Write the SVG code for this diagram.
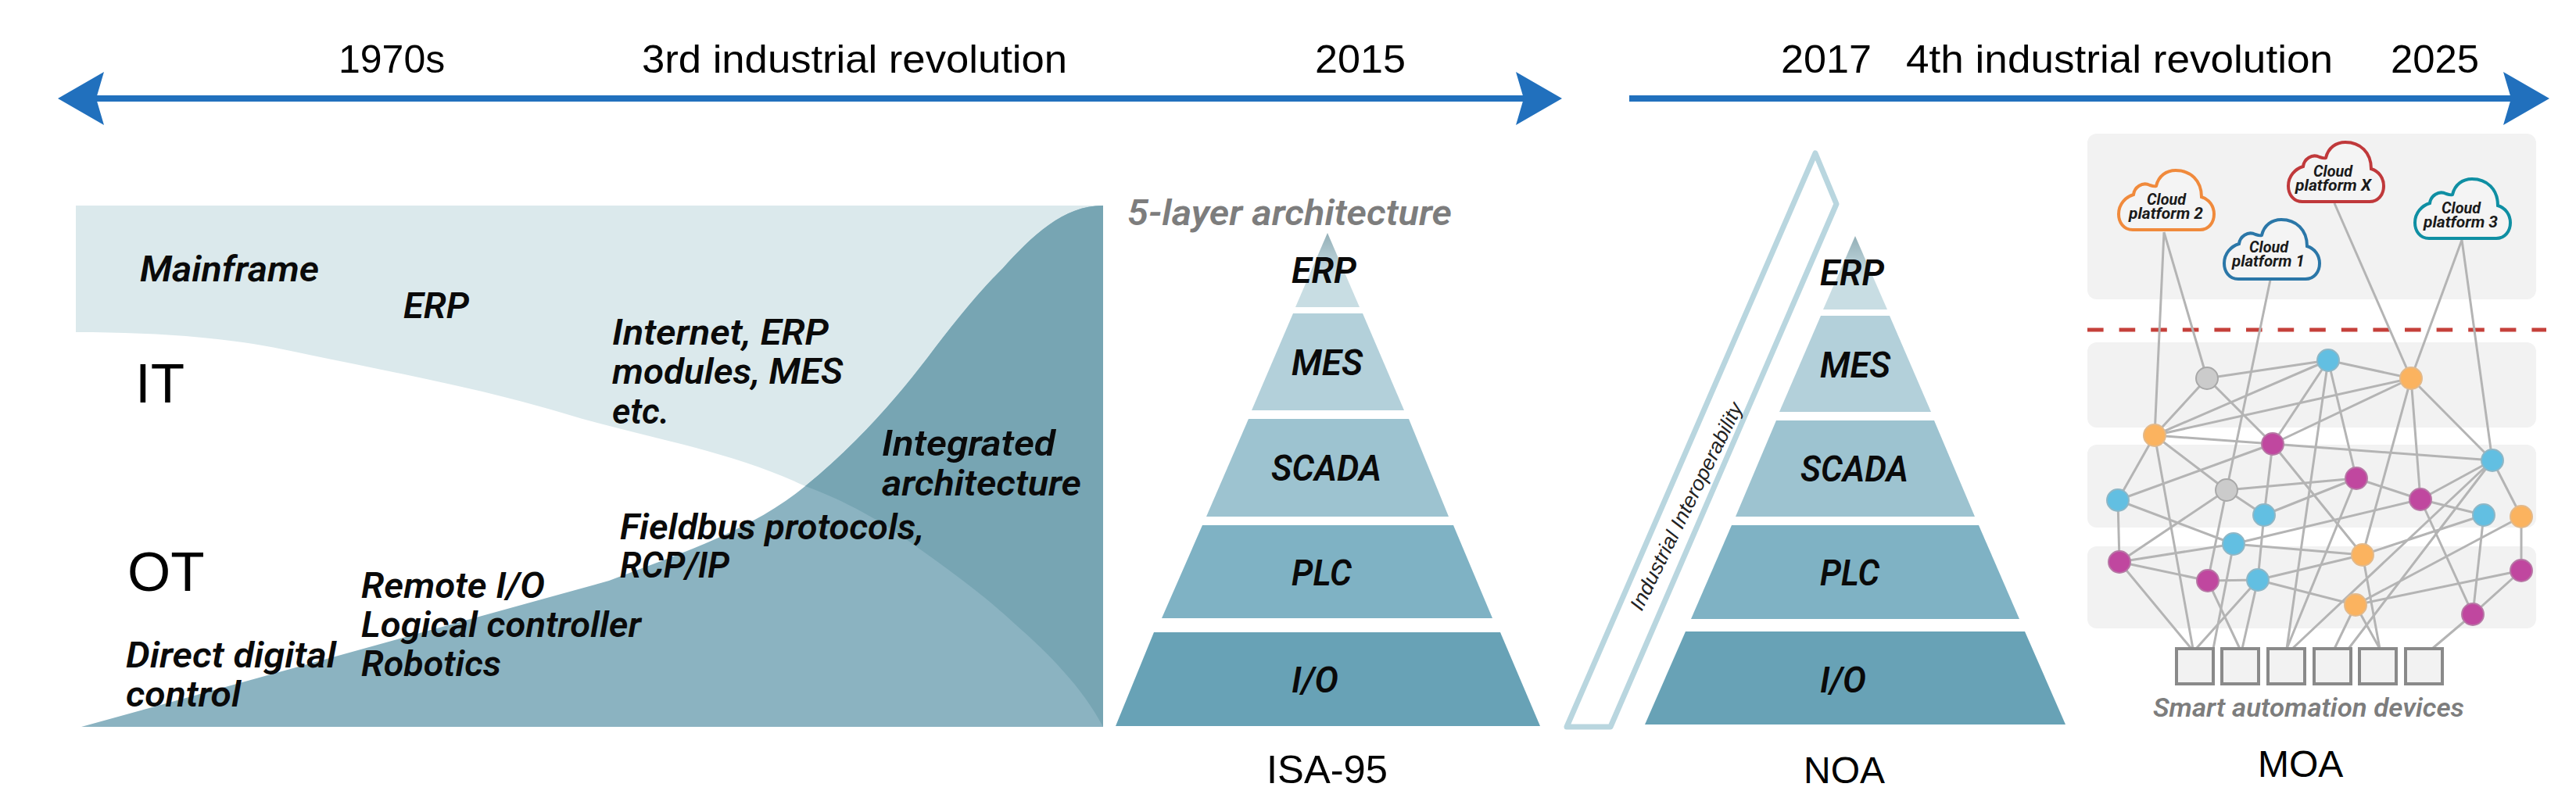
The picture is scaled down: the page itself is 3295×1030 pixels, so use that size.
<svg xmlns="http://www.w3.org/2000/svg" width="3295" height="1030" viewBox="0 0 3295 1030">
<style>
.t{font-family:"Liberation Sans",Arial,sans-serif;fill:#000}
.i{font-family:Roboto,"Liberation Sans",sans-serif;font-style:italic;font-weight:600;font-size:47px;fill:#0a0a0a}
.g{fill:#7d7d7d}
.c{font-size:21px;font-weight:700;fill:#1a1a1a}
.s{font-size:34px;font-weight:600}
.e{stroke:#b4b4b4;stroke-width:3;fill:none}
.tl{stroke:#2170bd;stroke-width:8;fill:none}
.pn{fill:#f2f2f2}
.d{fill:#f2f2f2;stroke:#8a8a8a;stroke-width:4}
.o{fill:#fbb35f;stroke:#e3b98a;stroke-width:2}
.b{fill:#62bfe2;stroke:#8fb7c6;stroke-width:2}
.m{fill:#c0479f;stroke:#b777a5;stroke-width:2}
.y{fill:#cbcbcb;stroke:#a8a8a8;stroke-width:2}
.cl{fill:#f4f4f4;stroke-width:4}
.l1{fill:url(#erp)}.l2{fill:#b3d0da}.l3{fill:#9dc3d0}.l4{fill:#7fb2c4}.l5{fill:#68a2b6}
</style>
<defs>
<linearGradient id="erp" x1="0" y1="0" x2="0" y2="1"><stop offset="0" stop-color="#93afb7"/><stop offset="0.55" stop-color="#c8dde3"/></linearGradient>
<marker id="ah" markerUnits="userSpaceOnUse" viewBox="0 0 59 68" markerWidth="59" markerHeight="68" refX="10" refY="34" orient="auto-start-reverse"><path d="M0,0L59,34L0,68L10,34Z" fill="#2170bd"/></marker>
<path id="cloud" d="M20,77C8,77 2,67 2,57C2,44 11,35 21,32C22,23 32,15 42,20C45,21 48,22 50,21C53,8 63,1 75,1C94,1 108,14 108,35C118,38 124,47 124,57C124,68 117,77 106,77Z"/>
</defs>

<g id="timeline">
<line class="tl" x1="123" y1="126" x2="1949" y2="126" marker-start="url(#ah)" marker-end="url(#ah)"/>
<line class="tl" x1="2084" y1="126" x2="3212" y2="126" marker-end="url(#ah)"/>
<text class="t" font-size="50" x="433" y="93">1970s</text>
<text class="t" font-size="50" x="821" y="93" textLength="544" lengthAdjust="spacingAndGlyphs">3rd industrial revolution</text>
<text class="t" font-size="50" x="1682" y="93" textLength="116" lengthAdjust="spacingAndGlyphs">2015</text>
<text class="t" font-size="50" x="2278" y="93" textLength="116" lengthAdjust="spacingAndGlyphs">2017</text>
<text class="t" font-size="50" x="2438" y="93" textLength="546" lengthAdjust="spacingAndGlyphs">4th industrial revolution</text>
<text class="t" font-size="50" x="3058" y="93" textLength="113" lengthAdjust="spacingAndGlyphs">2025</text>
</g>

<g id="evolution">
<path fill="#dbe9ec" d="M97,263H1411V930C1385,880 1340,835 1300,800C1265,767 1220,733 1173,700C1130,668 1080,640 1030,622C930,575 820,559 725,530C610,495 470,470 362,447C290,432 200,425 97,425Z"/>
<path fill="#8bb3c1" d="M104,930L779,743C860,712 960,680 1030,622C1100,565 1150,505 1187,457C1215,420 1250,375 1283,343C1320,302 1360,263 1411,263V930Z"/>
<path fill="#77a5b3" d="M1030,622C1100,565 1150,505 1187,457C1215,420 1250,375 1283,343C1320,302 1360,263 1411,263V930C1385,880 1340,835 1300,800C1265,767 1220,733 1173,700C1130,668 1080,640 1030,622Z"/>
<text class="i" x="179" y="360" textLength="229" lengthAdjust="spacingAndGlyphs">Mainframe</text>
<text class="i" x="516" y="407" textLength="84" lengthAdjust="spacingAndGlyphs">ERP</text>
<text class="i" x="783" y="441" textLength="277" lengthAdjust="spacingAndGlyphs">Internet, ERP</text>
<text class="i" x="783" y="491" textLength="295" lengthAdjust="spacingAndGlyphs">modules, MES</text>
<text class="i" x="783" y="542" textLength="73" lengthAdjust="spacingAndGlyphs">etc.</text>
<text class="i" x="1128" y="583" textLength="222" lengthAdjust="spacingAndGlyphs">Integrated</text>
<text class="i" x="1128" y="634" textLength="255" lengthAdjust="spacingAndGlyphs">architecture</text>
<text class="i" x="793" y="690" textLength="389" lengthAdjust="spacingAndGlyphs">Fieldbus protocols,</text>
<text class="i" x="793" y="739" textLength="140" lengthAdjust="spacingAndGlyphs">RCP/IP</text>
<text class="i" x="462" y="765" textLength="235" lengthAdjust="spacingAndGlyphs">Remote I/O</text>
<text class="i" x="462" y="815" textLength="358" lengthAdjust="spacingAndGlyphs">Logical controller</text>
<text class="i" x="462" y="865" textLength="179" lengthAdjust="spacingAndGlyphs">Robotics</text>
<text class="i" x="161" y="854" textLength="269" lengthAdjust="spacingAndGlyphs">Direct digital</text>
<text class="i" x="161" y="904" textLength="147" lengthAdjust="spacingAndGlyphs">control</text>
<text class="t" font-size="71" x="173" y="515">IT</text>
<text class="t" font-size="71" x="163" y="756">OT</text>
</g>

<g id="isa95">
<path class="l1" d="M1698,298L1739,393H1657Z"/>
<path class="l2" d="M1654,401H1743L1796,525H1601Z"/>
<path class="l3" d="M1597,536H1802L1853,661H1543Z"/>
<path class="l4" d="M1538,672H1859L1909,791H1486Z"/>
<path class="l5" d="M1476,809H1919L1970,929H1427Z"/>
<text class="i g" x="1442" y="288" textLength="415" lengthAdjust="spacingAndGlyphs">5-layer architecture</text>
<text class="i" x="1652" y="362" textLength="83" lengthAdjust="spacingAndGlyphs">ERP</text>
<text class="i" x="1652" y="480" textLength="91" lengthAdjust="spacingAndGlyphs">MES</text>
<text class="i" x="1626" y="615" textLength="141" lengthAdjust="spacingAndGlyphs">SCADA</text>
<text class="i" x="1652" y="749" textLength="77" lengthAdjust="spacingAndGlyphs">PLC</text>
<text class="i" x="1652" y="886" textLength="60" lengthAdjust="spacingAndGlyphs">I/O</text>
<text class="t" font-size="50" x="1620" y="1002" textLength="155" lengthAdjust="spacingAndGlyphs">ISA-95</text>
</g>

<g id="noa">
<path d="M2322,196L2349,261L2060,930H2004Z" fill="#fff" stroke="#b9d6df" stroke-width="7" stroke-linejoin="round"/>
<text transform="translate(2100,783) rotate(-63.7)" font-family="Liberation Sans, Arial, sans-serif" font-style="italic" font-size="26" fill="#222" textLength="293" lengthAdjust="spacingAndGlyphs">Industrial Interoperability</text>
<path class="l1" d="M2373,302L2414,396H2332Z"/>
<path class="l2" d="M2329,404H2417L2470,527H2276Z"/>
<path class="l3" d="M2272,538H2474L2526,661H2220Z"/>
<path class="l4" d="M2215,672H2531L2583,792H2163Z"/>
<path class="l5" d="M2156,808H2590L2642,927H2104Z"/>
<text class="i" x="2328" y="365" textLength="82" lengthAdjust="spacingAndGlyphs">ERP</text>
<text class="i" x="2328" y="483" textLength="90" lengthAdjust="spacingAndGlyphs">MES</text>
<text class="i" x="2303" y="616" textLength="138" lengthAdjust="spacingAndGlyphs">SCADA</text>
<text class="i" x="2328" y="749" textLength="76" lengthAdjust="spacingAndGlyphs">PLC</text>
<text class="i" x="2328" y="886" textLength="59" lengthAdjust="spacingAndGlyphs">I/O</text>
<text class="t" font-size="48" x="2307" y="1002">NOA</text>
</g>

<g id="moa-panels">
<rect class="pn" x="2670" y="171" width="574" height="212" rx="12"/>
<rect class="pn" x="2670" y="438" width="574" height="109" rx="12"/>
<rect class="pn" x="2670" y="569" width="574" height="106" rx="12"/>
<rect class="pn" x="2670" y="699" width="574" height="105" rx="12"/>
<line x1="2670" y1="422" x2="3257" y2="422" stroke="#c5403a" stroke-width="5" stroke-dasharray="20.6 20"/>
</g>

<g id="connectors">
<path class="e" d="M2768,297L2823,484M2768,297L2756,557M2904,358L2848,627M2986,260L3084,484M3149,307L3084,484M3149,307L3188,589"/>
<path class="e" d="M2823,484L2978,461M2978,461L3084,484M2823,484L2756,557M2823,484L2907,568M2978,461L2756,557M3084,484L2756,557M2978,461L2907,568M3084,484L2907,568M2978,461L2925,830M2978,461L3014,612M3084,484L3096,639M3084,484L3188,589M3084,484L3022,710"/>
<path class="e" d="M2756,557L2907,568M2756,557L2709,640M2756,557L2848,627M2756,557L2805,830M2907,568L3188,589M2907,568L2709,640M2907,568L2896,659M2907,568L3022,710"/>
<path class="e" d="M2848,627L3014,612M2848,627L2896,659M2848,627L2711,719M2848,627L2824,743M2709,640L2857,696M2709,640L2711,719"/>
<path class="e" d="M3014,612L2896,659M3014,612L3096,639M3014,612L2925,830M3096,639L3188,589M3096,639L3177,659M3096,639L2857,696M3096,639L3163,786"/>
<path class="e" d="M3188,589L3225,661M3188,589L2932,830M3188,589L3004,830M3177,659L3022,710M3177,659L3163,786M3225,661L3013,774M3225,661L3225,730"/>
<path class="e" d="M2857,696L3022,710M2857,696L2711,719M2857,696L2831,830M3022,710L2888,742M3022,710L3044,830M2896,659L2888,742"/>
<path class="e" d="M2711,719L2824,743M2711,719L2803,830M2824,743L2888,742M2824,743L2865,830M2888,742L2809,830M2888,742L2868,830M2888,742L3013,774M3013,774L3225,730M3013,774L2986,830M3013,774L3044,830M3163,786L3225,730M3163,786L3111,830"/>
</g>

<g id="cloud-2"><use href="#cloud" x="2708" y="217" class="cl" stroke="#f08a3c"/><text class="i c" x="2746" y="262" textLength="50" lengthAdjust="spacingAndGlyphs">Cloud</text><text class="i c" x="2723" y="280" textLength="95" lengthAdjust="spacingAndGlyphs">platform 2</text></g>
<g id="cloud-1"><use href="#cloud" x="2843" y="280" class="cl" stroke="#2b77a8"/><text class="i c" x="2877" y="323" textLength="50" lengthAdjust="spacingAndGlyphs">Cloud</text><text class="i c" x="2855" y="341" textLength="93" lengthAdjust="spacingAndGlyphs">platform 1</text></g>
<g id="cloud-x"><use href="#cloud" x="2925" y="181" class="cl" stroke="#c0393b"/><text class="i c" x="2959" y="226" textLength="50" lengthAdjust="spacingAndGlyphs">Cloud</text><text class="i c" x="2936" y="244" textLength="97" lengthAdjust="spacingAndGlyphs">platform X</text></g>
<g id="cloud-3"><use href="#cloud" x="3087" y="228" class="cl" stroke="#0f8fa3"/><text class="i c" x="3123" y="273" textLength="50" lengthAdjust="spacingAndGlyphs">Cloud</text><text class="i c" x="3100" y="291" textLength="95" lengthAdjust="spacingAndGlyphs">platform 3</text></g>

<g id="n1"><circle class="y" cx="2823" cy="484" r="14"/></g>
<g id="n2"><circle class="b" cx="2978" cy="461" r="14"/></g>
<g id="n3"><circle class="o" cx="3084" cy="484" r="14"/></g>
<g id="n4"><circle class="o" cx="2756" cy="557" r="14"/></g>
<g id="n5"><circle class="m" cx="2907" cy="568" r="14"/></g>
<g id="n6"><circle class="b" cx="3188" cy="589" r="14"/></g>
<g id="n7"><circle class="m" cx="3014" cy="612" r="14"/></g>
<g id="n8"><circle class="y" cx="2848" cy="627" r="14"/></g>
<g id="n9"><circle class="b" cx="2709" cy="640" r="14"/></g>
<g id="n10"><circle class="m" cx="3096" cy="639" r="14"/></g>
<g id="n11"><circle class="b" cx="2896" cy="659" r="14"/></g>
<g id="n12"><circle class="b" cx="3177" cy="659" r="14"/></g>
<g id="n13"><circle class="o" cx="3225" cy="661" r="14"/></g>
<g id="n14"><circle class="b" cx="2857" cy="696" r="14"/></g>
<g id="n15"><circle class="o" cx="3022" cy="710" r="14"/></g>
<g id="n16"><circle class="m" cx="2711" cy="719" r="14"/></g>
<g id="n17"><circle class="m" cx="3225" cy="730" r="14"/></g>
<g id="n18"><circle class="m" cx="2824" cy="743" r="14"/></g>
<g id="n19"><circle class="b" cx="2888" cy="742" r="14"/></g>
<g id="n20"><circle class="o" cx="3013" cy="774" r="14"/></g>
<g id="n21"><circle class="m" cx="3163" cy="786" r="14"/></g>

<g id="device-1"><rect class="d" x="2784" y="830" width="47" height="45"/></g>
<g id="device-2"><rect class="d" x="2842" y="830" width="47" height="45"/></g>
<g id="device-3"><rect class="d" x="2901" y="830" width="47" height="45"/></g>
<g id="device-4"><rect class="d" x="2960" y="830" width="47" height="45"/></g>
<g id="device-5"><rect class="d" x="3018" y="830" width="47" height="45"/></g>
<g id="device-6"><rect class="d" x="3077" y="830" width="47" height="45"/></g>
<text class="i g s" x="2754" y="917" textLength="398" lengthAdjust="spacingAndGlyphs">Smart automation devices</text>
<text class="t" font-size="48" x="2888" y="994">MOA</text>
</svg>
